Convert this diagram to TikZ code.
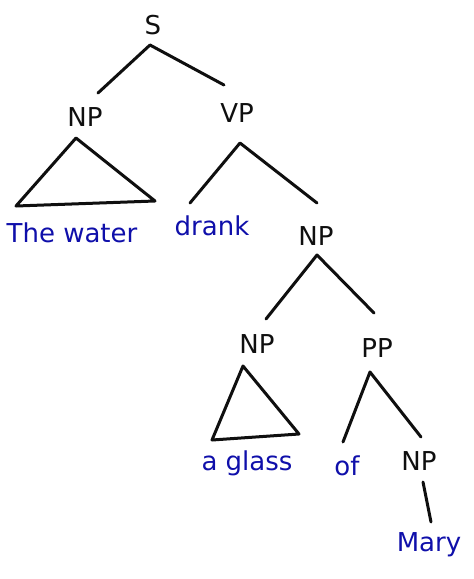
\documentclass[tikz,border=0pt]{standalone}
\usepackage{fontspec}
\setmainfont{DejaVu Sans}
\definecolor{ink}{RGB}{15,15,15}
\definecolor{word}{RGB}{15,15,170}
\begin{document}
\begin{tikzpicture}[x=1pt,y=-1pt,
  cat/.style={text=ink,font=\fontsize{26}{30}\selectfont,inner sep=0pt},
  leaf/.style={text=word,font=\fontsize{26}{30}\selectfont,inner sep=0pt},
  branch/.style={draw=ink,line width=3pt,line cap=round,line join=round}]
\useasboundingbox (0,0) rectangle (474,579);
% category nodes
\node[cat] (S) at (153,25) {S};
\node[cat] (NPa) at (85,117) {NP};
\node[cat] (VP) at (237,113) {VP};
\node[cat] (NPb) at (316,236) {NP};
\node[cat] (NPc) at (257,344) {NP};
\node[cat] (PP) at (377,348) {PP};
\node[cat] (NPd) at (419,461) {NP};
% words
\node[leaf] (w1) at (72,233) {The water};
\node[leaf] (w2) at (212,226) {drank};
\node[leaf] (w3) at (247,463) {a glass};
\node[leaf] (w4) at (347,466) {of};
\node[leaf] (w5) at (429,545) {Mary};
% branch points
\coordinate (s0) at (150,45);
\coordinate (s1) at (98,93);
\coordinate (s2) at (224,85);
\coordinate (a0) at (76,138);
\coordinate (a1) at (16,206);
\coordinate (a2) at (155,201);
\coordinate (v0) at (240,143);
\coordinate (v1) at (190,203);
\coordinate (v2) at (317,203);
\coordinate (b0) at (317,255);
\coordinate (b1) at (266,319);
\coordinate (b2) at (374,313);
\coordinate (c0) at (243,366);
\coordinate (c1) at (212,440);
\coordinate (c2) at (299,434);
\coordinate (p0) at (370,372);
\coordinate (p1) at (343,442);
\coordinate (p2) at (421,437);
\coordinate (d0) at (423,482);
\coordinate (d1) at (431,522);
% branches
\draw[branch] (s1) -- (s0) -- (s2);
\draw[branch] (a1) -- (a0) -- (a2) -- cycle;
\draw[branch] (v1) -- (v0) -- (v2);
\draw[branch] (b1) -- (b0) -- (b2);
\draw[branch] (c1) -- (c0) -- (c2) -- cycle;
\draw[branch] (p1) -- (p0) -- (p2);
\draw[branch] (d0) -- (d1);
\end{tikzpicture}
\end{document}
